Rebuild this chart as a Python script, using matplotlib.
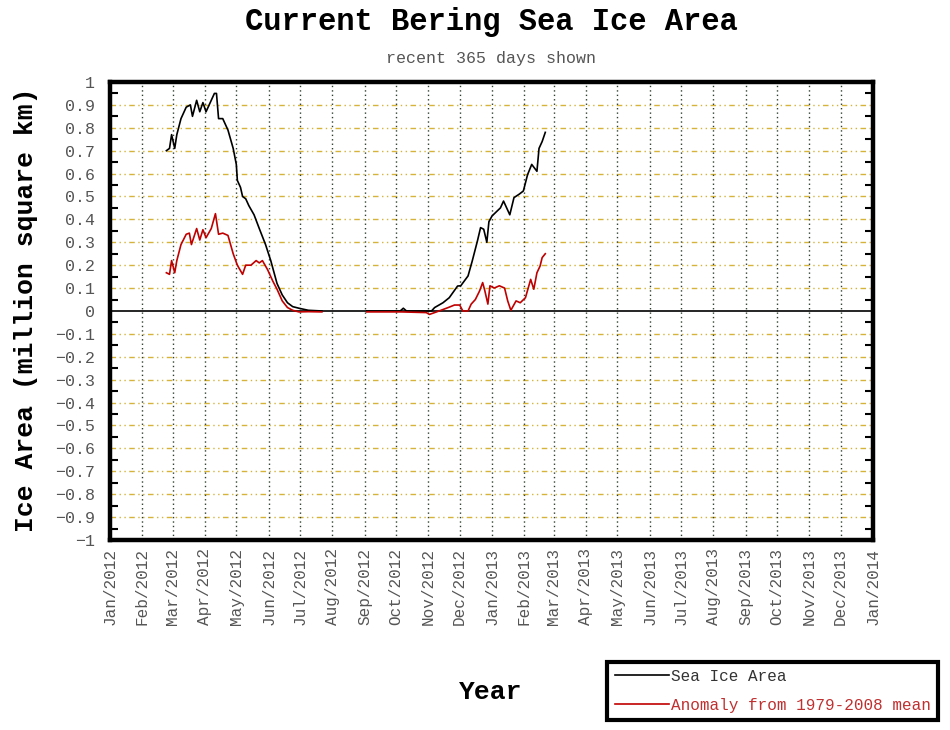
import numpy as np
import matplotlib
matplotlib.use('Agg')
import matplotlib.pyplot as plt
import matplotlib.dates as mdates
from matplotlib.ticker import MultipleLocator, FixedLocator

# days since 2012-01-01, values in million km^2 (nan = missing data)
ice_days = [54, 57, 59, 62, 64, 68, 73, 77, 79, 83, 86, 89, 92, 96, 100, 102, 104,
            108, 113, 118, 121, 122, 125, 127, 130, 133, 138, 143, 149, 154, 157,
            160, 165, 170, 175, 181, 186, 190, 203, 225, 246, 278, 281, 284, 308,
            311, 319, 325, 333, 336, 343, 347, 352, 355, 358, 361, 363, 366, 371,
            374, 377, 380, 383, 387, 392, 396, 400, 404, 409, 411, 414, 417]
ice_area = [0.70, 0.71, 0.77, 0.71, 0.77, 0.84, 0.89, 0.90, 0.85, 0.92, 0.87, 0.91,
            0.87, 0.91, 0.95, 0.95, 0.84, 0.84, 0.79, 0.71, 0.64, 0.57, 0.54, 0.50,
            0.49, 0.46, 0.42, 0.36, 0.29, 0.22, 0.17, 0.12, 0.07, 0.036, 0.019,
            0.012, 0.007, 0.003, 0.0, np.nan, 0.0, 0.0, 0.012, 0.0, 0.0,
            0.015, 0.036, 0.058, 0.109, 0.11, 0.153, 0.218, 0.306, 0.364, 0.357,
            0.30, 0.39, 0.415, 0.437, 0.45, 0.48, 0.45, 0.42, 0.495, 0.51, 0.524,
            0.595, 0.64, 0.61, 0.71, 0.74, 0.78]

anom_days = [54, 57, 59, 62, 64, 68, 73, 76, 78, 83, 86, 89, 92, 97, 101, 104, 108,
             113, 118, 122, 127, 130, 135, 140, 143, 146, 151, 156, 160, 165, 170,
             175, 181, 190, 203, 225, 246, 279, 303, 306, 311, 317, 324, 330, 335,
             338, 343, 346, 350, 354, 357, 359, 362, 364, 368, 373, 378, 381, 384,
             389, 393, 398, 403, 406, 409, 412, 414, 417]
anomaly = [0.167, 0.16, 0.22, 0.167, 0.22, 0.29, 0.335, 0.34, 0.29, 0.36, 0.31,
           0.355, 0.32, 0.36, 0.425, 0.335, 0.34, 0.33, 0.25, 0.20, 0.16, 0.20,
           0.20, 0.22, 0.21, 0.22, 0.18, 0.13, 0.095, 0.044, 0.015, 0.003, -0.004,
           -0.003, -0.004, np.nan, -0.004, -0.004, -0.007, -0.015, -0.007, 0.003,
           0.015, 0.026, 0.026, 0.0, 0.0, 0.03, 0.05, 0.087, 0.124, 0.09, 0.03,
           0.11, 0.10, 0.11, 0.10, 0.044, 0.003, 0.044, 0.036, 0.058, 0.138,
           0.095, 0.167, 0.196, 0.233, 0.25]

start = np.datetime64('2012-01-01')
ice_dates = start + np.array(ice_days).astype('timedelta64[D]')
anom_dates = start + np.array(anom_days).astype('timedelta64[D]')

plt.rcParams['font.family'] = ['Liberation Mono', 'DejaVu Sans Mono']

fig = plt.figure(figsize=(9.5, 7.3), dpi=100)
ax = fig.add_axes([0.1158, 0.2603, 0.8032, 0.6274])

# grid
for v in np.arange(-0.9, 0.95, 0.1):
    if abs(v) < 1e-9:
        continue
    ax.axhline(v, color='#d6b43c', lw=1.0, linestyle=(0, (4, 2.5, 1, 2.5, 1, 2.5)), zorder=1)
months = mdates.MonthLocator()
ax.xaxis.set_major_locator(months)
ax.xaxis.set_major_formatter(mdates.DateFormatter('%b/%Y'))
ax.grid(axis='x', color='#2f3f2f', lw=1.0, linestyle=(0, (1, 2.2)), zorder=1)
ax.axhline(0, color='black', lw=1.2, zorder=2)

ax.plot(ice_dates, ice_area, color='black', lw=1.2, label='Sea Ice Area', zorder=3)
ax.plot(anom_dates, anomaly, color='#c00000', lw=1.2,
        label='Anomaly from 1979-2008 mean', zorder=3)

ax.set_xlim(np.datetime64('2012-01-01'), np.datetime64('2014-01-01'))
ax.set_ylim(-1, 1)
ax.yaxis.set_major_locator(MultipleLocator(0.1))
ax.yaxis.set_major_formatter(plt.FuncFormatter(
    lambda v, p: '0' if abs(v) < 1e-9 else ('%d' % v if abs(abs(v) - 1) < 1e-9 else '%.1f' % v).replace('-', '\u2212')))
ax.yaxis.set_minor_locator(FixedLocator(np.arange(-0.95, 1.0, 0.1)))
ax.tick_params(axis='y', which='major', length=0, pad=11, labelsize=12, labelcolor='#555555')
ax.tick_params(axis='y', which='minor', direction='in', length=6, width=1.5,
               left=True, right=True, color='black')
ax.tick_params(axis='x', which='major', length=0, pad=6, labelsize=11.5,
               labelcolor='#555555', labelrotation=90)

for s in ax.spines.values():
    s.set_linewidth(3.2)

fig.text(0.517, 0.970, 'Current Bering Sea Ice Area', ha='center', va='center',
         fontsize=22, fontweight='bold')
fig.text(0.517, 0.920, 'recent 365 days shown', ha='center', va='center',
         fontsize=12, color='#555555')
fig.text(0.027, 0.575, 'Ice Area (million square km)', rotation=90, ha='center',
         va='center', fontsize=19, fontweight='bold')
fig.text(0.517, 0.052, 'Year', ha='center', va='center', fontsize=19, fontweight='bold')

leg = ax.legend(loc='lower right', bbox_to_anchor=(0.987, 0.014),
                bbox_transform=fig.transFigure, borderaxespad=0, fancybox=False,
                framealpha=1, edgecolor='black', fontsize=11.5, handlelength=3.4,
                handletextpad=0.1, borderpad=0.45, labelspacing=0.85,
                labelcolor=['#333333', '#c03030'])
leg.get_frame().set_linewidth(3)

fig.savefig('out.png', dpi=100)
